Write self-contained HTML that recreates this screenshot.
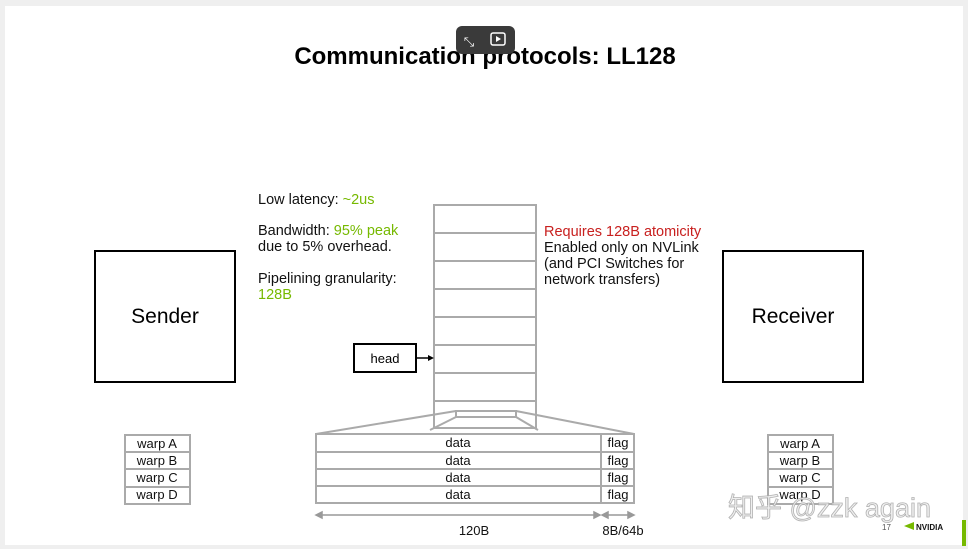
<!DOCTYPE html>
<html><head><meta charset="utf-8"><style>
body{margin:0;background:#efefef;}
svg{display:block}
text{font-family:"Liberation Sans","Noto Sans CJK SC",sans-serif;}
</style></head><body>
<svg width="968" height="549" viewBox="0 0 968 549" xmlns="http://www.w3.org/2000/svg">
<rect x="0" y="0" width="968" height="549" fill="#efefef"/>
<rect x="5" y="6" width="958" height="539" fill="#fff"/>
<rect x="962" y="520" width="4" height="26" fill="#76b900"/>
<text x="485" y="64" text-anchor="middle" font-size="24" font-weight="bold" fill="#000">Communication protocols: LL128</text>
<rect x="456" y="26" width="59" height="28" rx="6" fill="#3a3a3a"/>
<text x="469" y="46" font-size="13" fill="#fff" text-anchor="middle">⤡</text>
<rect x="491" y="33" width="14" height="12" fill="none" stroke="#fff" stroke-width="1.5" rx="2"/>
<polygon points="496,36 496,42 501,39" fill="#fff"/>

<g font-size="14.5" fill="#111">
<text x="258" y="204">Low latency: <tspan fill="#76b900">~2us</tspan></text>
<text x="258" y="235">Bandwidth: <tspan fill="#76b900">95% peak</tspan></text>
<text x="258" y="251">due to 5% overhead.</text>
<text x="258" y="283">Pipelining granularity:</text>
<text x="258" y="299" fill="#76b900">128B</text>
<text x="544" y="236" fill="#c8201f">Requires 128B atomicity</text>
<text x="544" y="252">Enabled only on NVLink</text>
<text x="544" y="268">(and PCI Switches for</text>
<text x="544" y="284">network transfers)</text>
</g>

<rect x="95" y="251" width="140" height="131" fill="none" stroke="#000" stroke-width="2"/>
<text x="165" y="323" text-anchor="middle" font-size="21">Sender</text>
<rect x="723" y="251" width="140" height="131" fill="none" stroke="#000" stroke-width="2"/>
<text x="793" y="323" text-anchor="middle" font-size="21">Receiver</text>

<g fill="none" stroke="#aaa" stroke-width="2">
<rect x="434" y="205" width="102" height="223"/>
<line x1="434" y1="233" x2="536" y2="233"/><line x1="434" y1="261" x2="536" y2="261"/>
<line x1="434" y1="289" x2="536" y2="289"/><line x1="434" y1="317" x2="536" y2="317"/>
<line x1="434" y1="345" x2="536" y2="345"/><line x1="434" y1="373" x2="536" y2="373"/>
<line x1="434" y1="401" x2="536" y2="401"/>
<rect x="456" y="411" width="60" height="6"/>
<line x1="456" y1="411" x2="316" y2="434"/><line x1="516" y1="411" x2="634" y2="434"/>
<line x1="456" y1="417" x2="430" y2="430"/><line x1="516" y1="417" x2="538" y2="430"/>
<line x1="434" y1="428" x2="536" y2="428"/>
<rect x="316" y="434" width="318" height="69"/>
<line x1="316" y1="452" x2="634" y2="452"/><line x1="316" y1="469" x2="634" y2="469"/>
<line x1="316" y1="486" x2="634" y2="486"/><line x1="601" y1="434" x2="601" y2="503"/>
<rect x="125" y="435" width="65" height="69"/>
<line x1="125" y1="452" x2="190" y2="452"/><line x1="125" y1="469" x2="190" y2="469"/><line x1="125" y1="487" x2="190" y2="487"/>
<rect x="768" y="435" width="65" height="69"/>
<line x1="768" y1="452" x2="833" y2="452"/><line x1="768" y1="469" x2="833" y2="469"/><line x1="768" y1="487" x2="833" y2="487"/>
</g>
<g font-size="13" fill="#111" text-anchor="middle">
<text x="458" y="447">data</text><text x="458" y="465">data</text><text x="458" y="482">data</text><text x="458" y="499">data</text>
<text x="618" y="447">flag</text><text x="618" y="465">flag</text><text x="618" y="482">flag</text><text x="618" y="499">flag</text>
<text x="157" y="448">warp A</text><text x="157" y="465">warp B</text><text x="157" y="482">warp C</text><text x="157" y="499">warp D</text>
<text x="800" y="448">warp A</text><text x="800" y="465">warp B</text><text x="800" y="482">warp C</text><text x="800" y="499">warp D</text>
<text x="474" y="535">120B</text><text x="623" y="535">8B/64b</text>
</g>
<g stroke="#999" stroke-width="1.5" fill="#999">
<line x1="318" y1="515" x2="598" y2="515"/>
<polygon points="316,515 322,512 322,518"/><polygon points="600,515 594,512 594,518"/>
<line x1="604" y1="515" x2="632" y2="515"/>
<polygon points="602,515 608,512 608,518"/><polygon points="634,515 628,512 628,518"/>
</g>
<rect x="354" y="344" width="62" height="28" fill="none" stroke="#000" stroke-width="2"/>
<text x="385" y="363" text-anchor="middle" font-size="13">head</text>
<line x1="416" y1="358" x2="430" y2="358" stroke="#000" stroke-width="1.5"/>
<polygon points="434,358 428,355 428,361" fill="#000"/>

<text x="728" y="517" font-size="27" fill="#eee" stroke="#aaa" stroke-width="0.8" opacity="0.9">知乎 @zzk again</text>
<text x="882" y="530" font-size="8" fill="#555">17</text>
<polygon points="904,526 914,522 914,530" fill="#76b900"/>
<text x="916" y="530" font-size="8" font-weight="bold" fill="#111">NVIDIA</text>
</svg>
</body></html>
